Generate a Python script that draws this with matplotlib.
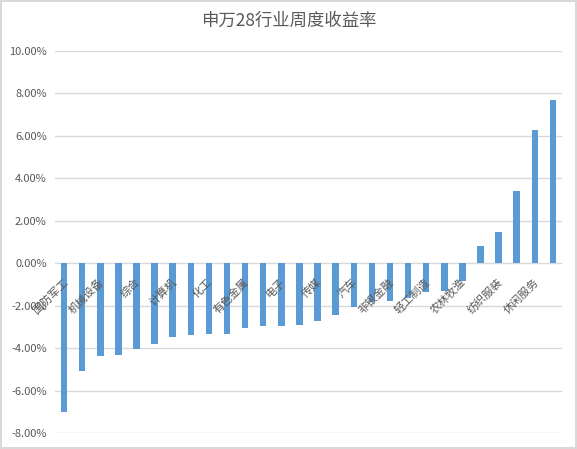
import matplotlib
matplotlib.use("Agg")
import matplotlib.pyplot as plt
import matplotlib.transforms as mtransforms
from matplotlib.ticker import FuncFormatter

plt.rcParams['font.family'] = ['Noto Sans CJK SC', 'DejaVu Sans']

# 申万28个行业, 按周度收益率升序 (每隔一个显示标签)
industries = ["国防军工", "钢铁", "机械设备", "电气设备", "综合", "建筑装饰",
              "计算机", "通信", "化工", "建筑材料", "有色金属", "采掘",
              "电子", "医药生物", "传媒", "公用事业", "汽车", "交通运输",
              "非银金融", "房地产", "轻工制造", "银行", "农林牧渔", "商业贸易",
              "纺织服装", "家用电器", "休闲服务", "食品饮料"]
weekly_return = [-7.00, -5.08, -4.37, -4.30, -4.04, -3.80,
                 -3.48, -3.39, -3.34, -3.30, -3.06, -2.97,
                 -2.97, -2.88, -2.73, -2.45, -2.04, -1.83,
                 -1.75, -1.61, -1.33, -1.28, -0.84, 0.83,
                 1.49, 3.42, 6.29, 7.70]
title = "申万28行业周度收益率"
yticks = [-8, -6, -4, -2, 0, 2, 4, 6, 8, 10]

text_color = '#595959'
grid_color = '#D9D9D9'
bar_color = '#5B9BD5'

fig = plt.figure(figsize=(5.77, 4.49), dpi=100)
fig.patch.set_edgecolor(grid_color)
fig.patch.set_linewidth(1.5)
ax = fig.add_axes([0.0953, 0.0349, 0.8787, 0.8515])

x = list(range(len(industries)))
# gridlines behind the bars, tick labels (axis) drawn over them
for t in yticks:
    ax.axhline(t, color=grid_color, linewidth=1, zorder=0.5)
ax.bar(x, weekly_return, width=0.36, color=bar_color, zorder=1)

ax.set_xlim(-0.5, len(industries) - 0.5)
ax.set_ylim(-8, 10)
ax.set_yticks(yticks)
ax.yaxis.set_major_formatter(FuncFormatter(lambda v, p: "%.2f%%" % v))
ax.tick_params(axis='y', length=0, pad=6, labelsize=8, labelcolor=text_color)

for side in ['top', 'right', 'left']:
    ax.spines[side].set_visible(False)
ax.spines['bottom'].set_position(('data', 0))
ax.spines['bottom'].set_visible(False)

ax.set_xticks(x[::2])
ax.set_xticklabels(industries[::2])
ax.tick_params(axis='x', length=0, pad=12, labelsize=8, labelcolor=text_color)
offset = mtransforms.ScaledTranslation(2 / 100, 0, fig.dpi_scale_trans)
for lab in ax.get_xticklabels():
    lab.set_rotation(45)
    lab.set_ha('right')
    lab.set_va('center')
    lab.set_rotation_mode('anchor')
    lab.set_transform(lab.get_transform() + offset)

fig.text(0.501, 0.953, title, ha='center', va='center', fontsize=12.5, color=text_color)

fig.savefig("out.png", dpi=100)
